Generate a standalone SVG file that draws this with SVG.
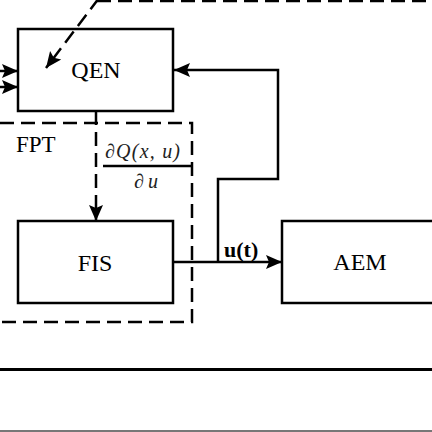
<svg xmlns="http://www.w3.org/2000/svg" width="432" height="432" viewBox="0 0 432 432">
<style>
.box{fill:#fff;stroke:#000;stroke-width:2.5}
.ln{fill:none;stroke:#000;stroke-width:2.5}
.dash{fill:none;stroke:#000;stroke-width:2.5;stroke-dasharray:14 7}
.lbl{font-family:"Liberation Serif","Times New Roman",serif;font-size:24px;fill:#000;text-anchor:middle}
.it{font-family:"Liberation Serif","Times New Roman",serif;font-style:italic;font-size:20px;fill:#222}
</style>
<defs>
<marker id="ah" markerUnits="userSpaceOnUse" markerWidth="16" markerHeight="14" refX="16" refY="7" orient="auto" overflow="visible">
<path d="M0,0 L16,7 L0,14 L3,7 z" fill="#000"/>
</marker>
</defs>
<rect width="432" height="432" fill="#fff"/>
<g id="FPT">
<path class="dash" d="M0,123 L192,123 L192,322 L0,322"/>
<text x="16" y="152" font-family="'Liberation Serif','Times New Roman',serif" font-size="23" fill="#000">FPT</text>
</g>
<g id="QEN">
<rect class="box" x="18" y="29" width="155" height="82"/>
<text class="lbl" x="96" y="78">QEN</text>
</g>
<g id="FIS">
<rect class="box" x="18" y="221" width="155" height="82"/>
<text class="lbl" x="95" y="271">FIS</text>
</g>
<g id="AEM">
<rect class="box" x="282" y="221" width="160" height="82"/>
<text class="lbl" x="360" y="270">AEM</text>
</g>
<g id="connectors">
<line class="ln" x1="0" y1="71" x2="18" y2="71" marker-end="url(#ah)"/>
<line class="ln" x1="0" y1="87" x2="18" y2="87" marker-end="url(#ah)"/>
<path class="dash" d="M97,1 L432,1"/>
<path class="dash" d="M99,-2 L46,68" marker-end="url(#ah)"/>
<path class="dash" d="M96,111 L96,221" marker-end="url(#ah)"/>
<path class="ln" d="M173,262 L282,262" marker-end="url(#ah)"/>
<path class="ln" d="M218,262 L218,179 L278,179 L278,70 L174,70" marker-end="url(#ah)"/>
<line class="ln" x1="103" y1="166" x2="192" y2="166"/>
</g>
<g id="labels">
<text x="224" y="257" font-family="'Liberation Serif','Times New Roman',serif" font-weight="bold" font-size="22" fill="#000">u(t)</text>
<text class="it" x="105" y="158" textLength="75" lengthAdjust="spacing">∂Q(x, u)</text>
<text class="it" x="134" y="188" textLength="24" lengthAdjust="spacing">∂u</text>
</g>
<line x1="0" y1="369.5" x2="432" y2="369.5" stroke="#000" stroke-width="3"/>
<line x1="0" y1="431" x2="432" y2="431" stroke="#777" stroke-width="2"/>
</svg>
